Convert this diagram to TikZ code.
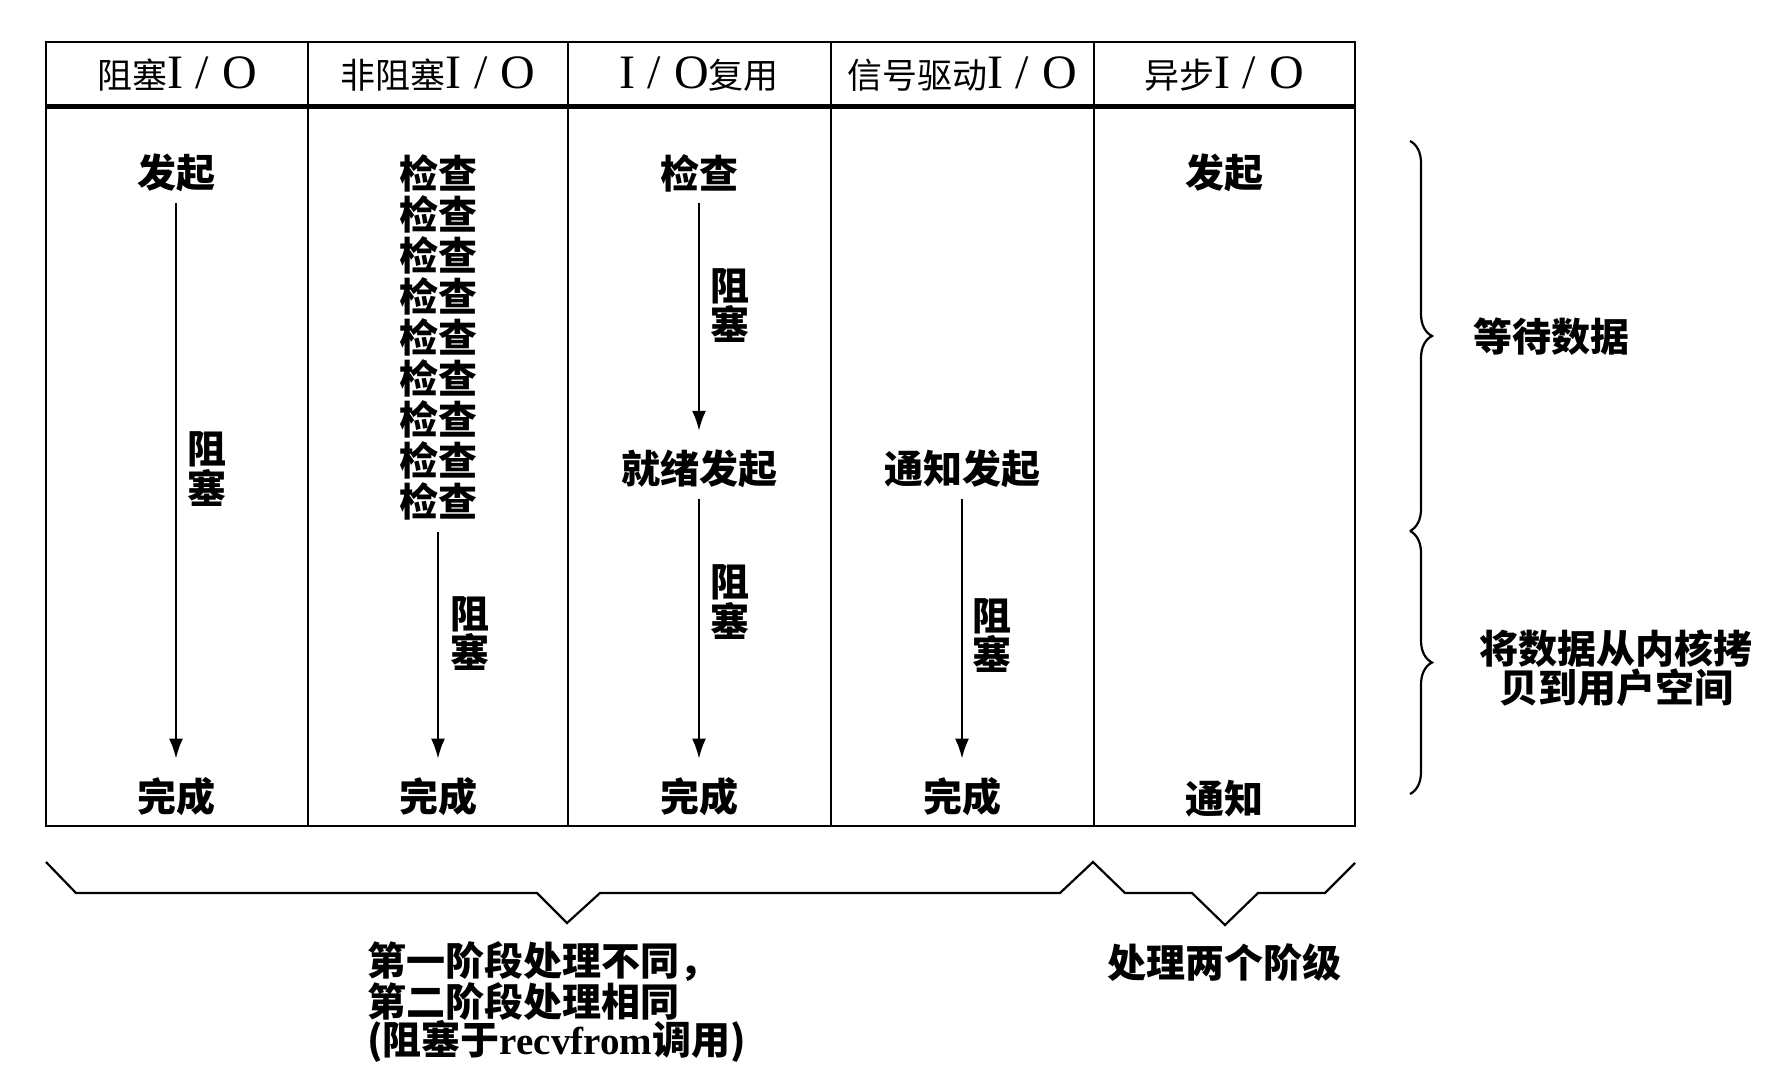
\documentclass[tikz,border=0pt]{standalone}
\usepackage{fontspec}
\newfontfamily\cjk{Noto Sans CJK SC}
\newfontfamily\lser{Liberation Serif}
\usetikzlibrary{arrows.meta,decorations.pathreplacing}
\newcommand\IOtxt{{\lser\fontsize{48}{48}\selectfont I\kern13pt/\kern13pt O}}
\tikzset{
  hdr/.style={font=\cjk\fontsize{35}{35}\selectfont, inner sep=0pt},
  txt/.style={font=\cjk\bfseries\fontsize{39}{39.4}\selectfont, inner sep=0pt, align=center},
  stack/.style={txt, font=\cjk\bfseries\fontsize{39}{41.1}\selectfont},
  side/.style={font=\cjk\bfseries\fontsize{39}{37}\selectfont, inner sep=0pt, align=center},
  arr/.style={line width=2.2pt, -{Latex[length=20pt,width=14pt]}, shorten <=11pt, shorten >=19pt},
  frame/.style={line width=2.2pt},
  bracefig/.style={line width=2.2pt, decorate, decoration={brace, amplitude=22pt}}
}
\begin{document}
\begin{tikzpicture}[x=1pt,y=-1pt]
\useasboundingbox (0,0) rectangle (1772,1084);
% table frame
\draw[frame] (46,42) rectangle (1355,826);
\foreach \xx in {308,568,831,1094} \draw[frame] (\xx,42) -- (\xx,826);
\draw[line width=5pt] (46,106) -- (1355,106);
% headers
\node[hdr] (h1) at (177,74) {阻塞\IOtxt};
\node[hdr] (h2) at (438,74) {非阻塞\IOtxt};
\node[hdr] (h3) at (699,74) {\IOtxt 复用};
\node[hdr] (h4) at (962,74) {信号驱动\IOtxt};
\node[hdr] (h5) at (1224,74) {异步\IOtxt};
% column 1
\node[txt] (fq1) at (176,173) {发起};
\node[txt] (wc1) at (176,797) {完成};
\node[txt] (zs1) at (207,469) {阻\\塞};
\draw[arr] (fq1) -- (wc1);
% column 2
\node[stack] (chk2) at (438,337.5) {检查\\检查\\检查\\检查\\检查\\检查\\检查\\检查\\检查};
\node[txt] (wc2) at (438,797) {完成};
\node[txt] (zs2) at (470,633.5) {阻\\塞};
\draw[arr] (chk2) -- (wc2);
% column 3
\node[txt] (chk3) at (699,173) {检查};
\node[txt] (jx3) at (699,469) {就绪发起};
\node[txt] (wc3) at (699,797) {完成};
\node[txt] (zs3a) at (730,305.5) {阻\\塞};
\node[txt] (zs3b) at (730,602) {阻\\塞};
\draw[arr] (chk3) -- (jx3);
\draw[arr] (jx3) -- (wc3);
% column 4
\node[txt] (tz4) at (962,469) {通知发起};
\node[txt] (wc4) at (962,797) {完成};
\node[txt] (zs4) at (992,635.5) {阻\\塞};
\draw[arr] (tz4) -- (wc4);
% column 5
\node[txt] (fq5) at (1224,173) {发起};
\node[txt] (tz5) at (1224,799) {通知};
% right braces
\coordinate (b1) at (1410,141);
\coordinate (b2) at (1410,531);
\coordinate (b3) at (1410,794);
\draw[bracefig] (b1) -- (b2);
\draw[bracefig] (b2) -- (b3);
\node[side] (wait) at (1551,337) {等待数据};
\node[side] (copy) at (1616,668) {将数据从内核拷\\贝到用户空间};
% bottom zigzag
\draw[line width=2.2pt, line join=miter] (46,862) -- (76,893) -- (537,893) -- (567,923) -- (600,893) -- (1060,893) -- (1093,862) -- (1125,893) -- (1192,893) -- (1225,925) -- (1258,893) -- (1325,893) -- (1355,863);
\node[side, align=left, anchor=north west, font=\cjk\bfseries\fontsize{39}{38}\selectfont] (note1) at (367,941) {第一阶段处理不同，\\第二阶段处理相同\\(阻塞于{\lser\bfseries recvfrom}调用)};
\node[side] (note2) at (1224,963) {处理两个阶级};
\end{tikzpicture}
\end{document}
